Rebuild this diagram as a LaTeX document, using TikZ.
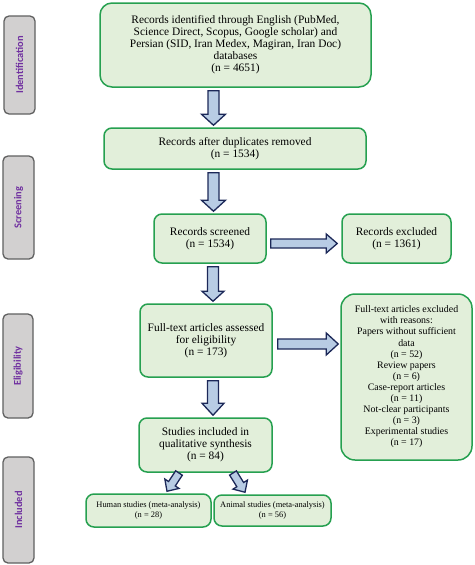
\documentclass[tikz,border=0pt]{standalone}
\usepackage{fontspec}
\setmainfont{Liberation Serif}
\newfontfamily\barfont{Carlito}
\usetikzlibrary{calc}
\definecolor{boxfill}{RGB}{226,239,218}
\definecolor{boxdraw}{RGB}{38,160,80}
\definecolor{arrfill}{RGB}{184,204,228}
\definecolor{arrdraw}{RGB}{28,40,88}
\definecolor{barfill}{RGB}{210,208,208}
\definecolor{bardraw}{RGB}{96,96,96}
\definecolor{bartext}{RGB}{112,48,160}
\tikzset{
  flowbox/.style={draw=boxdraw, fill=boxfill, line width=1.5pt, rounded corners=8pt,
    inner sep=0pt, align=center, font=\fontsize{11.4}{12}\selectfont},
  smallbox/.style={flowbox, font=\fontsize{8.4}{10}\selectfont},
  sidebar/.style={draw=bardraw, fill=barfill, line width=1.3pt, rounded corners=5pt,
    inner sep=0pt, rotate=90, text=bartext, font=\barfont\bfseries\fontsize{10.4}{11}\selectfont},
  blockarr/.style={draw=arrdraw, fill=arrfill, line width=1.3pt, line join=miter}
}
% #1 start, #2 tip, #3 shaft half width, #4 head half width, #5 head length
\newcommand\blockarrow[5]{%
  \coordinate (ba@h) at ($(#2)!#5!(#1)$);
  \draw[blockarr] ($(#1)!#3!90:(#2)$) -- ($(ba@h)!#3!-90:(#1)$) -- ($(ba@h)!#4!-90:(#1)$)
    -- (#2) -- ($(ba@h)!#4!90:(#1)$) -- ($(ba@h)!#3!90:(#1)$) -- ($(#1)!#3!-90:(#2)$) -- cycle;
}
\begin{document}
\begin{tikzpicture}[x=1pt,y=-1pt]
\useasboundingbox (0,0) rectangle (474,565);
% side bars
\node[sidebar, minimum width=98pt, minimum height=31pt] (sid) at (19.5,65) {Identification};
\node[sidebar, minimum width=103pt, minimum height=31pt] (ssc) at (18.5,207.5) {Screening};
\node[sidebar, minimum width=104pt, minimum height=30pt] (sel) at (18,366) {Eligibility};
\node[sidebar, minimum width=106pt, minimum height=31pt] (sin) at (18.5,510) {Included};
% boxes
\node[flowbox, rounded corners=12pt, minimum width=271pt, minimum height=84pt] (b1) at (235.5,45)
  {Records identified through English (PubMed,\\Science Direct, Scopus, Google scholar) and\\Persian (SID, Iran Medex, Magiran, Iran Doc)\\databases\\(n = 4651)};
\node[flowbox, minimum width=262pt, minimum height=41pt] (b2) at (235,148.5)
  {Records after duplicates removed\\(n = 1534)};
\node[flowbox, minimum width=112pt, minimum height=49pt] (b3) at (210,238.5)
  {Records screened\\(n = 1534)};
\node[flowbox, minimum width=109pt, minimum height=49pt] (e1) at (396.5,238.5)
  {Records excluded\\(n = 1361)};
\node[flowbox, minimum width=132pt, minimum height=73pt] (b4) at (206,340.5)
  {Full-text articles assessed\\for eligibility\\(n = 173)};
\node[flowbox, rounded corners=14pt, minimum width=131pt, minimum height=166pt,
  font=\fontsize{9.9}{11.1}\selectfont] (e2) at (406.5,377)
  {Full-text articles excluded\\with reasons:\\Papers without sufficient\\data\\(n = 52)\\Review papers\\(n = 6)\\Case-report articles\\(n = 11)\\Not-clear participants\\(n = 3)\\Experimental studies\\(n = 17)};
\node[flowbox, minimum width=133pt, minimum height=54pt] (b5) at (205.5,445)
  {Studies included in\\qualitative synthesis\\(n = 84)};
\node[smallbox, minimum width=125pt, minimum height=33pt] (h) at (148.5,510.5)
  {Human studies (meta-analysis)\\(n = 28)};
\node[smallbox, minimum width=117pt, minimum height=31pt] (a) at (272.5,510.5)
  {Animal studies (meta-analysis)\\(n = 56)};
% arrow end points
\coordinate (a1s) at ([yshift=-3pt]b1.south -| 213.5,0);
\coordinate (a1e) at ([yshift=2pt]b2.north -| 213.5,0);
\coordinate (a2s) at ([yshift=-3pt]b2.south -| 213.5,0);
\coordinate (a2e) at ([yshift=2pt]b3.north -| 213.5,0);
\coordinate (a3s) at ([yshift=-3pt]b3.south -| 213,0);
\coordinate (a3e) at ([yshift=2pt]b4.north -| 213,0);
\coordinate (a4s) at ([yshift=-3pt]b4.south -| 213,0);
\coordinate (a4e) at ([yshift=2pt]b5.north -| 213,0);
\coordinate (r1s) at ([xshift=4pt]b3.east |- 0,243.5);
\coordinate (r1e) at ([xshift=-4pt]e1.west |- 0,243.5);
\coordinate (r2s) at ([xshift=5pt]b4.east |- 0,344);
\coordinate (r2e) at ([xshift=-2pt]e2.west |- 0,344);
\coordinate (d1s) at (179,473);
\coordinate (d1e) at ([yshift=2pt]h.north -| 167,0);
\coordinate (d2s) at (233,473);
\coordinate (d2e) at ([yshift=2pt]a.north -| 245,0);
\blockarrow{a1s}{a1e}{5.5pt}{12pt}{11pt}
\blockarrow{a2s}{a2e}{5.5pt}{12pt}{11pt}
\blockarrow{a3s}{a3e}{5.5pt}{11pt}{10pt}
\blockarrow{a4s}{a4e}{5.5pt}{11pt}{12pt}
\blockarrow{r1s}{r1e}{4.5pt}{9.5pt}{11pt}
\blockarrow{r2s}{r2e}{5pt}{11pt}{12pt}
\blockarrow{d1s}{d1e}{4pt}{8.5pt}{9pt}
\blockarrow{d2s}{d2e}{4pt}{8.5pt}{9pt}
\end{tikzpicture}
\end{document}
